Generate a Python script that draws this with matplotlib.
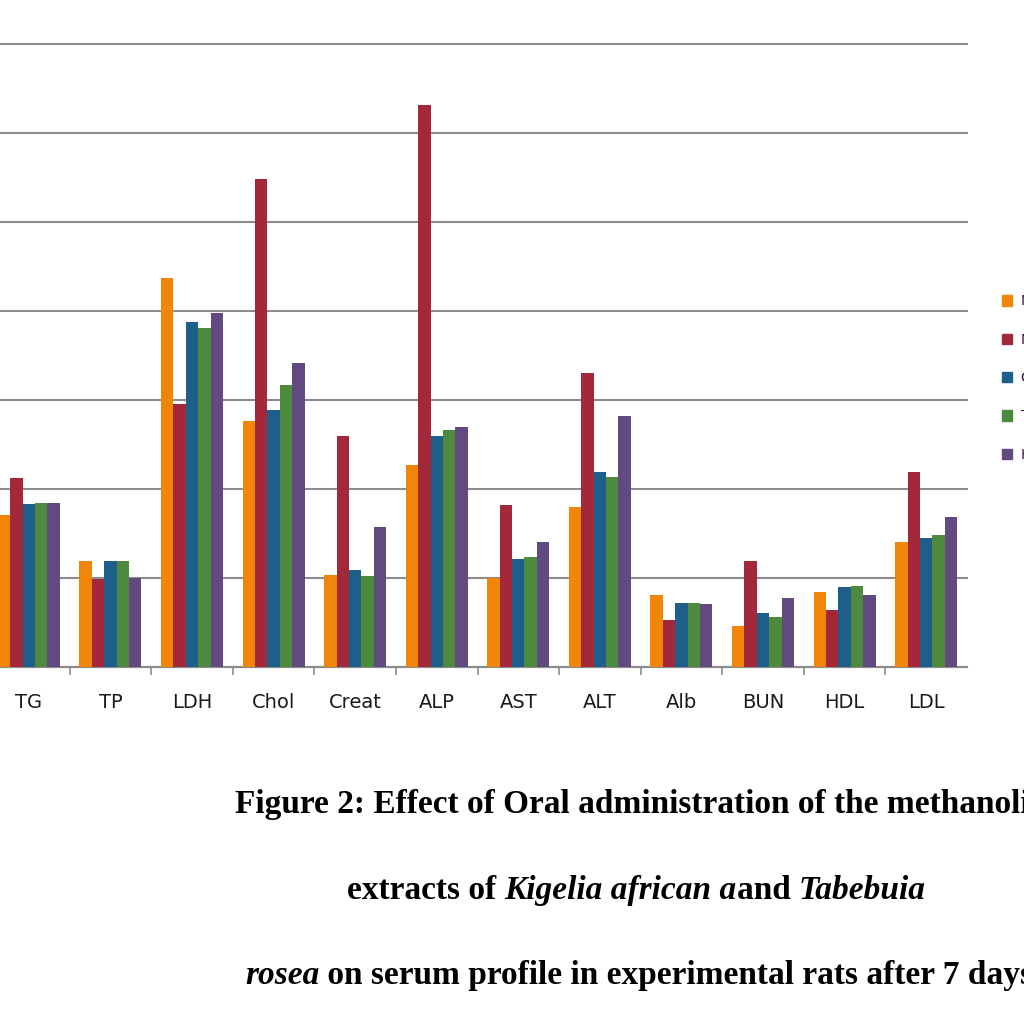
import matplotlib.pyplot as plt
import matplotlib.patches as mpatches
import numpy as np

# Data (one gridline = 1 unit)
params = ["TG", "TP", "LDH", "Chol", "Creat", "ALP", "AST", "ALT", "Alb", "BUN", "HDL", "LDL"]
series_names = ["Normal control", "Negative control", "Combined extract", "Tabebuia rosea", "Kigelia africana"]
normal = [1.71, 1.19, 4.37, 2.76, 1.03, 2.27, 1.00, 1.80, 0.81, 0.46, 0.84, 1.40]
negative = [2.12, 0.99, 2.96, 5.48, 2.60, 6.31, 1.82, 3.30, 0.53, 1.19, 0.64, 2.19]
combined = [1.83, 1.19, 3.88, 2.89, 1.09, 2.60, 1.21, 2.19, 0.72, 0.61, 0.90, 1.45]
tabebuia = [1.84, 1.19, 3.81, 3.17, 1.02, 2.66, 1.24, 2.13, 0.72, 0.56, 0.91, 1.48]
kigelia = [1.84, 1.00, 3.98, 3.42, 1.57, 2.70, 1.40, 2.82, 0.71, 0.78, 0.81, 1.69]

COLORS = ["#F08508", "#A3293A", "#1E5E8A", "#4E8A3E", "#624A80"]
GRID = "#8c8c8c"

fig = plt.figure(figsize=(10.24, 10.24), dpi=100)
ax = fig.add_axes([-12 / 1024, 357 / 1024, 979 / 1024, 623 / 1024])

x = np.arange(len(params))
w = 0.152
for i, (vals, col) in enumerate(zip([normal, negative, combined, tabebuia, kigelia], COLORS)):
    ax.bar(x + (i - 2) * w, vals, w, color=col, zorder=3, linewidth=0)

ax.set_xlim(-0.5, len(params) - 0.5)
ax.set_ylim(0, 7)
ax.set_yticks(range(0, 8))
ax.yaxis.grid(True, color=GRID, lw=1.5, zorder=0)
for gl in ax.get_ygridlines():
    gl.set_clip_on(False)
ax.tick_params(axis="y", left=False, labelleft=False)
ax.set_xticks(x)
ax.set_xticklabels(params, fontsize=14, family="DejaVu Sans", color="#1a1a1a")
ax.tick_params(axis="x", which="major", length=0, pad=19)
ax.set_xticks(np.arange(0.5, len(params) - 0.5, 1), minor=True)
ax.tick_params(axis="x", which="minor", length=6, width=1.2, color=GRID, direction="out")
for s in ["top", "right", "left"]:
    ax.spines[s].set_visible(False)
ax.spines["bottom"].set_color(GRID)
ax.spines["bottom"].set_linewidth(1.5)

handles = [mpatches.Patch(color=c, label=n) for c, n in zip(COLORS, series_names)]
fig.legend(handles=handles, loc="center left", bbox_to_anchor=(1002 / 1024, 1 - 378 / 1024),
           frameon=False, fontsize=10, handlelength=0.75, handleheight=0.75,
           labelspacing=1.75, handletextpad=0.6, borderpad=0, borderaxespad=0,
           labelcolor="#3a1040")

# Caption, built from bold / bold-italic pieces
serif = "Liberation Serif"
fs = 24


def caption_line(x0, y0, parts):
    prev = fig.text(x0, y0, parts[0][0], fontsize=fs, fontweight="bold", style=parts[0][1],
                    family=serif, va="bottom", ha="left")
    for txt, style in parts[1:]:
        prev = fig.add_artist(plt.Annotation(txt, xy=(1, 0), xycoords=prev, va="bottom", ha="left",
                                             fontsize=fs, fontweight="bold", style=style,
                                             family=serif))
    return prev


caption_line(235 / 1024, 1 - 820 / 1024,
             [("Figure 2: Effect of Oral administration of the methanolic", "normal")])
caption_line(347 / 1024, 1 - 906 / 1024,
             [("extracts of ", "normal"), ("Kigelia african a", "italic"),
              ("and ", "normal"), ("Tabebuia", "italic")])
caption_line(245 / 1024, 1 - 991 / 1024,
             [("rosea", "italic"), (" on serum profile in experimental rats after 7 days", "normal")])

plt.savefig("out.png", dpi=100)
